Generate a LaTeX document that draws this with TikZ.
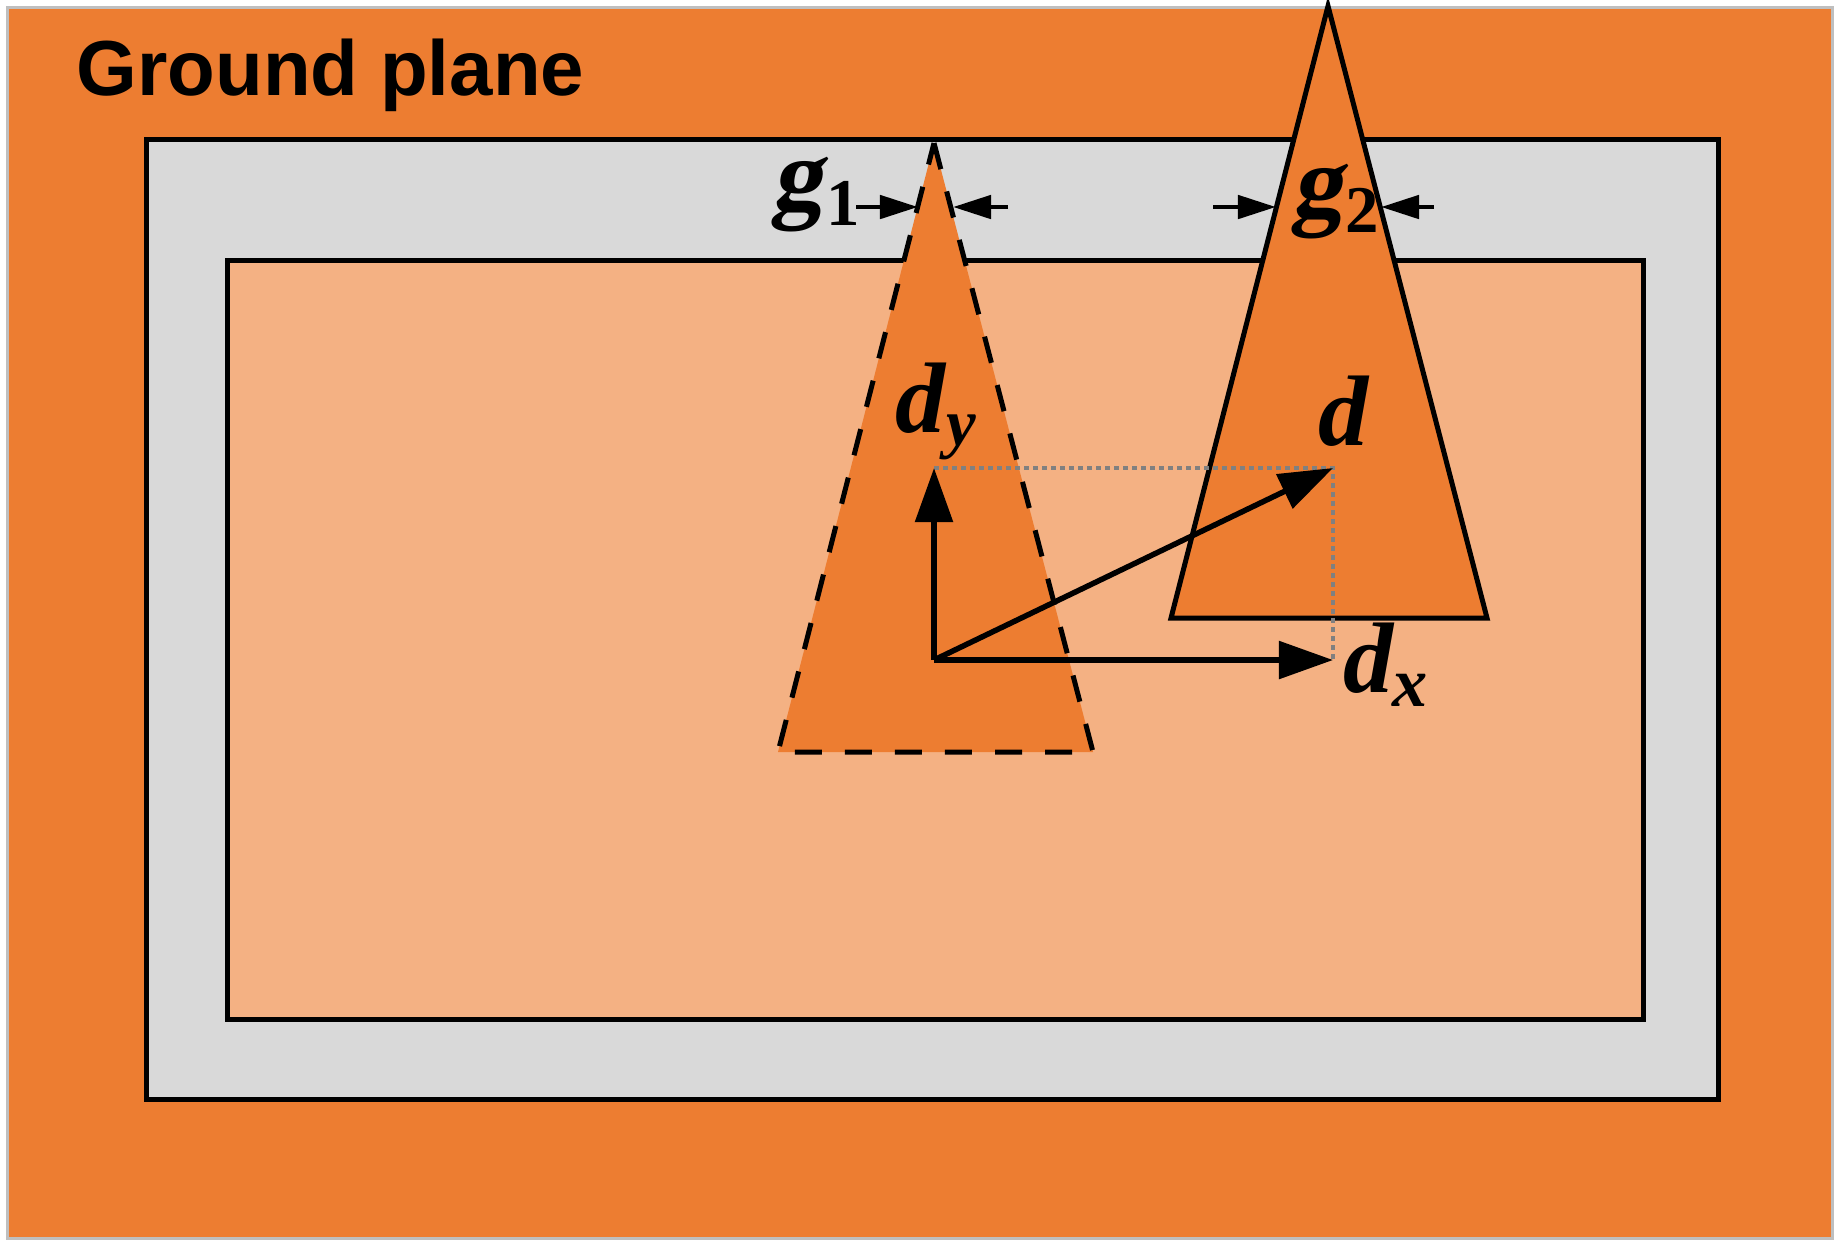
\documentclass[tikz,border=0pt]{standalone}
\usepackage{fontspec}
\setmainfont{Liberation Serif}
\newfontfamily\gpsans{Liberation Sans}
\newfontfamily\gslant[FakeSlant=0.18]{Liberation Serif}
\usetikzlibrary{arrows.meta}

\definecolor{gporange}{HTML}{ED7D31}
\definecolor{gplight}{HTML}{F4B183}
\definecolor{gapgray}{HTML}{D9D9D9}
\definecolor{framegray}{HTML}{BFBFBF}
\definecolor{dotgray}{HTML}{808080}

\begin{document}
\begin{tikzpicture}[x=0.01cm, y=-0.01cm,
    edge/.style={line width=0.05cm, draw=black},
    bigarrow/.style={line width=0.055cm, -{Triangle[length=0.54cm, width=0.37cm]}},
    gaparrow/.style={line width=0.048cm, -{Triangle[length=0.38cm, width=0.23cm]}},
    guide/.style={dotgray, line width=0.048cm, dash pattern=on 0.05cm off 0.04cm},
    mlabel/.style={font=\fontsize{28.5}{30}\selectfont\bfseries\itshape, inner sep=0pt, anchor=base west},
    glabel/.style={font=\gslant\fontsize{29}{30}\selectfont\bfseries, inner sep=0pt, anchor=base west},
    sublabel/.style={font=\fontsize{19}{20}\selectfont\bfseries, inner sep=0pt, anchor=base west}
]
    \useasboundingbox (0,0) rectangle (1843,1253);

    % Ground plane
    \draw[line width=0.03cm, framegray, fill=gporange] (7.5,7.5) rectangle (1832.5,1238.5);
    \node[font=\gpsans\fontsize{22.2}{24}\selectfont\bfseries, inner sep=0pt, anchor=base west] (gp) at (76,95) {Ground plane};

    % Gap and patch
    \draw[edge, fill=gapgray] (146,139) rectangle (1718.5,1099);
    \draw[edge, fill=gplight] (227,260) rectangle (1643.5,1019.5);

    % Triangle before the shift (dashed)
    \coordinate (a1) at (934,143);
    \coordinate (b1) at (778,752);
    \coordinate (c1) at (1093,752);
    \draw[edge, dash pattern=on 0.27cm off 0.23cm, fill=gporange] (a1) -- (c1) -- (b1) -- cycle;

    % Triangle after the shift
    \coordinate (a2) at (1328,6);
    \coordinate (b2) at (1171,618);
    \coordinate (c2) at (1487,618);
    \draw[edge, fill=gporange] (a2) -- (c2) -- (b2) -- cycle;

    % Shift vector and its parts
    \coordinate (o) at (934,660);
    \coordinate (py) at (934,468);
    \coordinate (px) at (1333,660);
    \coordinate (pd) at (1333,468);
    \draw[guide] (py) -- (pd) -- (px);
    \draw[bigarrow] (o) -- (py);
    \draw[bigarrow] (o) -- (px);
    \draw[bigarrow] (o) -- (pd);

    % Gap arrows
    \coordinate (g1l) at (856,207);
    \coordinate (g1lt) at (918,207);
    \coordinate (g1r) at (1008,207);
    \coordinate (g1rt) at (953,207);
    \coordinate (g2l) at (1213,207);
    \coordinate (g2lt) at (1276,207);
    \coordinate (g2r) at (1434,207);
    \coordinate (g2rt) at (1381,207);
    \draw[gaparrow] (g1l) -- (g1lt);
    \draw[gaparrow] (g1r) -- (g1rt);
    \draw[gaparrow] (g2l) -- (g2lt);
    \draw[gaparrow] (g2r) -- (g2rt);

    % Labels
    \node[glabel] (g1lbl) at (771,209) {g};
    \node[sublabel] (g1sub) at (826,225) {1};
    \node[glabel] (g2lbl) at (1291,216) {g};
    \node[sublabel] (g2sub) at (1345,232) {2};
    \node[mlabel] (dylbl) at (895,432) {d};
    \node[sublabel, font=\fontsize{19}{20}\selectfont\bfseries\itshape] (dysub) at (946,445) {y};
    \node[mlabel] (dlbl) at (1318,445) {d};
    \node[mlabel] (dxlbl) at (1343,692) {d};
    \node[sublabel, font=\fontsize{20}{21}\selectfont\bfseries\itshape] (dxsub) at (1392,706) {x};
\end{tikzpicture}
\end{document}
